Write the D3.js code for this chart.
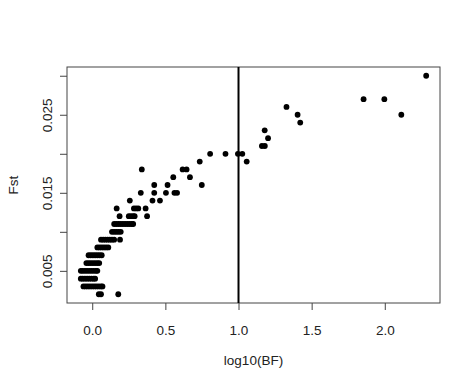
<!DOCTYPE html>
<html>
<head>
<meta charset="utf-8">
<script src="https://cdnjs.cloudflare.com/ajax/libs/d3/7.8.5/d3.min.js"></script>
<style>
    body { margin: 0; background: #fff; }
    text { font-family: "Liberation Sans", Arial, sans-serif; }
</style>
</head>
<body>
<div id="chart-area"></div>
<script>
// points, one line per Fst level
var log10BF = [
    0.045, 0.06, 0.178,
    -0.06, -0.045, -0.03, -0.015, 0, 0.015, 0.03, 0.045, 0.06, 0.07,
    -0.078, -0.065, -0.05, -0.035, -0.02, -0.005, 0.01, 0.02,
    -0.078, -0.065, -0.05, -0.035, -0.02, -0.005, 0.01, 0.025, 0.035,
    -0.04, -0.025, -0.01, 0.005, 0.02, 0.035, 0.048,
    -0.025, -0.01, 0.005, 0.02, 0.035, 0.05, 0.065,
    0.035, 0.05, 0.065, 0.08, 0.095, 0.11,
    0.06, 0.075, 0.09, 0.105, 0.12, 0.135, 0.15, 0.19,
    0.135, 0.15, 0.165, 0.18, 0.195,
    0.15, 0.165, 0.18, 0.195, 0.21, 0.225, 0.24, 0.255, 0.27, 0.28,
    0.187, 0.25, 0.265, 0.28, 0.29, 0.375,
    0.167, 0.285, 0.30, 0.315, 0.365,
    0.257, 0.412, 0.463,
    0.332, 0.424, 0.504, 0.562, 0.58,
    0.424, 0.515, 0.749,
    0.554, 0.668,
    0.339, 0.618, 0.645,
    0.735, 1.056,
    0.806, 0.911, 0.996, 1.026,
    1.16, 1.18,
    1.202,
    1.179,
    1.422,
    1.404, 2.113,
    1.328,
    1.855, 1.997,
    2.283
];

var fst = [
    0.002, 0.002, 0.002,
    0.003, 0.003, 0.003, 0.003, 0.003, 0.003, 0.003, 0.003, 0.003, 0.003,
    0.004, 0.004, 0.004, 0.004, 0.004, 0.004, 0.004, 0.004,
    0.005, 0.005, 0.005, 0.005, 0.005, 0.005, 0.005, 0.005, 0.005,
    0.006, 0.006, 0.006, 0.006, 0.006, 0.006, 0.006,
    0.007, 0.007, 0.007, 0.007, 0.007, 0.007, 0.007,
    0.008, 0.008, 0.008, 0.008, 0.008, 0.008,
    0.009, 0.009, 0.009, 0.009, 0.009, 0.009, 0.009, 0.009,
    0.010, 0.010, 0.010, 0.010, 0.010,
    0.011, 0.011, 0.011, 0.011, 0.011, 0.011, 0.011, 0.011, 0.011, 0.011,
    0.012, 0.012, 0.012, 0.012, 0.012, 0.012,
    0.013, 0.013, 0.013, 0.013, 0.013,
    0.014, 0.014, 0.014,
    0.015, 0.015, 0.015, 0.015, 0.015,
    0.016, 0.016, 0.016,
    0.017, 0.017,
    0.018, 0.018, 0.018,
    0.019, 0.019,
    0.020, 0.020, 0.020, 0.020,
    0.021, 0.021,
    0.022,
    0.023,
    0.024,
    0.025, 0.025,
    0.026,
    0.027, 0.027,
    0.030
];

var xTicks = [0, 0.5, 1, 1.5, 2];
var yTicks = [0.005, 0.010, 0.015, 0.020, 0.025, 0.030];
var yLabelled = [0.005, 0.015, 0.025];
var cutoff = 1;

var margin = { left: 67, right: 34, top: 67, bottom: 84 };
var width = 474 - margin.left - margin.right,
    height = 387 - margin.top - margin.bottom;

var g = d3.select("#chart-area")
    .append("svg")
        .attr("width", width + margin.left + margin.right)
        .attr("height", height + margin.top + margin.bottom)
    .append("g")
        .attr("transform", "translate(" + margin.left + ", " + margin.top + ")");

var data = log10BF.map(function(d, i) {
    return { bf: d, fst: fst[i] };
});

// R style: data range padded by 4% on each side
var xExt = d3.extent(log10BF), yExt = d3.extent(fst);
var xPad = (xExt[1] - xExt[0]) * 0.04, yPad = (yExt[1] - yExt[0]) * 0.04;

var x = d3.scaleLinear()
    .domain([xExt[0] - xPad, xExt[1] + xPad])
    .range([0, width]);

var y = d3.scaleLinear()
    .domain([yExt[0] - yPad, yExt[1] + yPad])
    .range([height, 0]);

// X Axis
var xAxisCall = d3.axisBottom(x)
    .tickValues(xTicks)
    .tickSize(7)
    .tickFormat(d3.format(".1f"));
var xAxis = g.append("g")
    .attr("class", "x axis")
    .attr("transform", "translate(0," + height + ")")
    .call(xAxisCall);
xAxis.select(".domain").remove();
xAxis.selectAll("line").attr("stroke", "#444");
xAxis.selectAll("text")
    .attr("y", 32)
    .attr("dy", 0)
    .attr("font-size", "13.5px")
    .attr("fill", "#222");

// Y Axis
var yAxisCall = d3.axisLeft(y)
    .tickValues(yTicks)
    .tickSize(7)
    .tickFormat(function(d) {
        return yLabelled.some(function(v) { return Math.abs(v - d) < 1e-9; }) ? d3.format(".3f")(d) : "";
    });
var yAxis = g.append("g")
    .attr("class", "y axis")
    .call(yAxisCall);
yAxis.select(".domain").remove();
yAxis.selectAll("line").attr("stroke", "#444");
yAxis.selectAll("text")
    .attr("x", 0)
    .attr("dy", 0)
    .attr("text-anchor", "middle")
    .attr("transform", "translate(-15.5,0) rotate(-90)")
    .attr("font-size", "13.5px")
    .attr("fill", "#222");

// Box
g.append("rect")
    .attr("x", 0)
    .attr("y", 0)
    .attr("width", width)
    .attr("height", height)
    .attr("fill", "none")
    .attr("stroke", "#444");

// Cutoff line
g.append("line")
    .attr("x1", x(cutoff))
    .attr("x2", x(cutoff))
    .attr("y1", 0)
    .attr("y2", height)
    .attr("stroke", "#000")
    .attr("stroke-width", 2);

// Points
g.selectAll("circle")
    .data(data)
    .enter()
    .append("circle")
        .attr("cx", function(d) { return x(d.bf); })
        .attr("cy", function(d) { return y(d.fst); })
        .attr("r", 2.9)
        .attr("fill", "#000");

// X Label
g.append("text")
    .attr("x", width / 2)
    .attr("y", height + 62)
    .attr("font-size", "13.5px")
    .attr("text-anchor", "middle")
    .attr("fill", "#222")
    .text("log10(BF)");

// Y Label
g.append("text")
    .attr("x", -(height / 2))
    .attr("y", -49)
    .attr("font-size", "13.5px")
    .attr("text-anchor", "middle")
    .attr("transform", "rotate(-90)")
    .attr("fill", "#222")
    .text("Fst");
</script>
</body>
</html>
